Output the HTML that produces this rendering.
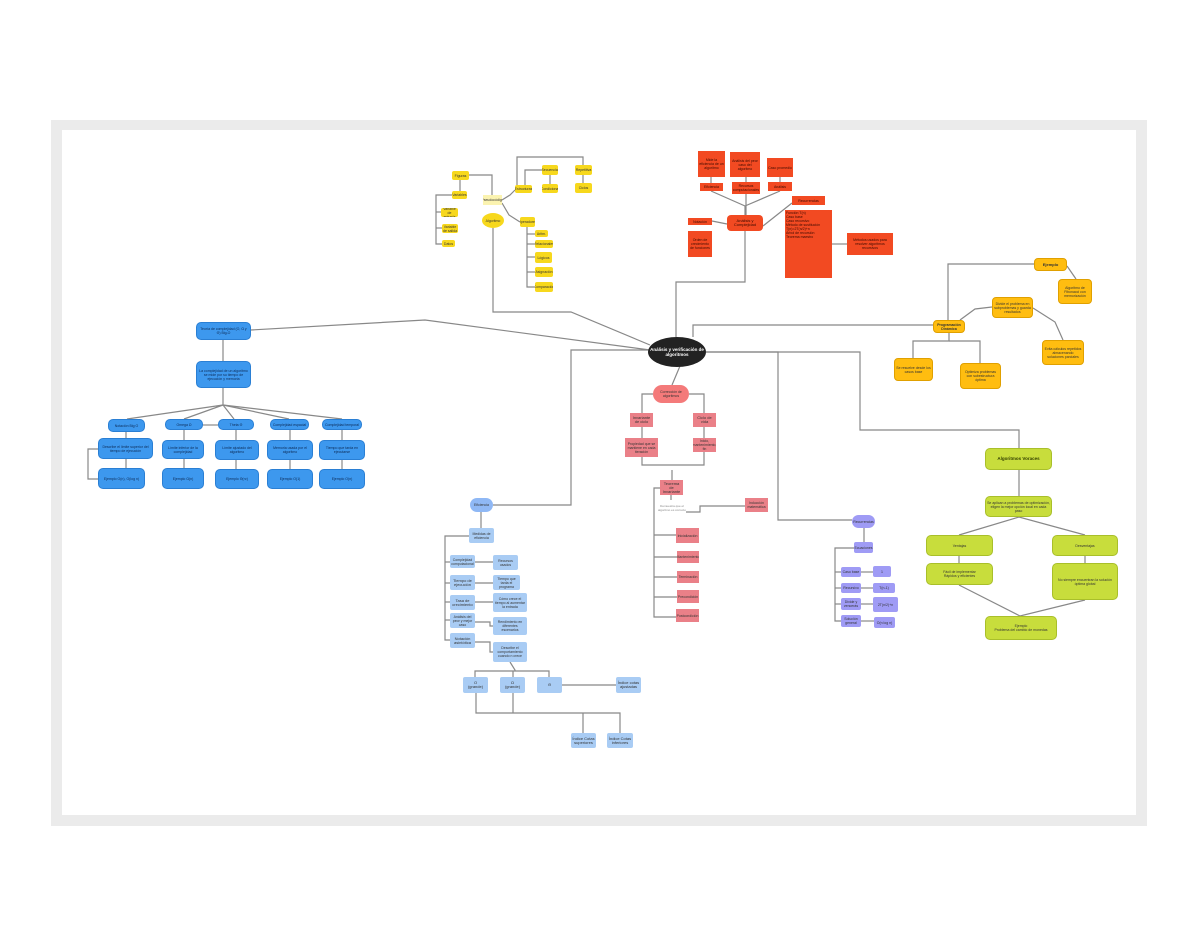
<!DOCTYPE html>
<html><head><meta charset="utf-8">
<style>
html,body{margin:0;padding:0;background:#fff;}
body{width:1200px;height:927px;position:relative;overflow:hidden;font-family:"Liberation Sans",sans-serif;}
.frame{position:absolute;left:51px;top:120px;width:1096px;height:706px;background:#ebebeb;}
.inner{position:absolute;left:62px;top:130px;width:1074px;height:685px;background:#fff;}
.b{position:absolute;box-sizing:border-box;display:flex;align-items:center;justify-content:center;text-align:center;font-size:3.5px;line-height:4px;overflow:hidden;color:#333;padding:1px;}
.bl{background:#3d98ee;border-radius:5px;color:#0d2a55;border:1px solid #2a7fd4;}
.ye{background:#f7d81d;border-radius:2px;}
.rd{background:#f24a22;color:#3a0a00;}
.or{background:#ffbd10;border-radius:4px;border:1px solid #e0a000;}
.gr{background:#c8dd3c;border-radius:5px;border:1px solid #a9bf2a;}
.pk{background:#ea8088;}
.lb{background:#a9ccf4;border-radius:2px;}
.pu{background:#9f9bf5;border-radius:2px;}
svg{position:absolute;left:0;top:0;}
</style></head><body>
<div class="frame"></div><div class="inner"></div>
<svg width="1200" height="927" fill="none" stroke="#888" stroke-width="1.2">
<!-- blue -->
<polyline points="251,330 425,320 650,350"/>
<line x1="223" y1="340" x2="223" y2="361"/>
<line x1="223" y1="388" x2="223" y2="405"/>
<polyline points="127,419 223,405 184,419"/><polyline points="223,405 234,419"/><polyline points="223,405 289,419"/><polyline points="223,405 342,419"/>
<line x1="203" y1="425" x2="218" y2="425"/>
<line x1="126" y1="432" x2="126" y2="438"/><line x1="184" y1="430" x2="184" y2="440"/><line x1="236" y1="430" x2="236" y2="440"/><line x1="290" y1="430" x2="290" y2="440"/><line x1="342" y1="430" x2="342" y2="440"/>
<polyline points="98,449 88,449 88,479 98,479"/>
<line x1="126" y1="459" x2="126" y2="468"/>
<line x1="184" y1="459" x2="184" y2="468"/><line x1="236" y1="460" x2="236" y2="469"/><line x1="290" y1="460" x2="290" y2="469"/><line x1="342" y1="460" x2="342" y2="469"/>
<!-- yellow -->
<polyline points="493,228 493,312 571,312 650,345"/>
<polyline points="469,175 492,175 492,195"/>
<line x1="460" y1="180" x2="460" y2="191"/>
<polyline points="452,195 436,195 436,244 442,244"/><line x1="436" y1="212" x2="441" y2="212"/><line x1="436" y1="228" x2="442" y2="228"/>
<polyline points="502,200 510,195 515,190"/><polyline points="502,203 509,215 520,222"/>
<polyline points="517,185 517,157 583,157 583,165"/><polyline points="525,185 525,170 542,170"/>
<line x1="550" y1="175" x2="550" y2="184"/><line x1="583" y1="175" x2="583" y2="183"/>
<polyline points="527,227 527,287 535,287"/><line x1="527" y1="234" x2="535" y2="234"/><line x1="527" y1="244" x2="535" y2="244"/><line x1="527" y1="257" x2="535" y2="257"/><line x1="527" y1="272" x2="535" y2="272"/>
<!-- red -->
<polyline points="745,231 745,282 676,282 676,337"/>
<polyline points="711,191 745,206 745,215"/><line x1="746" y1="194" x2="746" y2="215"/><polyline points="780,191 745,206"/>
<line x1="711" y1="177" x2="711" y2="183"/><line x1="746" y1="177" x2="746" y2="182"/><line x1="780" y1="177" x2="780" y2="182"/>
<line x1="712" y1="221" x2="727" y2="224"/><line x1="763" y1="226" x2="792" y2="203"/><line x1="832" y1="244" x2="847" y2="244"/>
<!-- orange -->
<polyline points="693,337 693,325 933,325"/>
<polyline points="1034,264 948,264 948,320"/>
<line x1="1067" y1="266" x2="1076" y2="279"/>
<polyline points="960,320 975,309 992,307"/>
<polyline points="1033,308 1055,322 1063,340"/>
<polyline points="949,333 949,341 913,341 913,358"/><polyline points="949,341 980,341 980,363"/>
<!-- green -->
<polyline points="706,352 860,352 860,430 1019,430 1019,448"/>
<line x1="1019" y1="470" x2="1019" y2="496"/>
<polyline points="959,535 1019,517 1085,535"/>
<line x1="959" y1="556" x2="959" y2="563"/><line x1="1085" y1="556" x2="1085" y2="563"/>
<polyline points="959,585 1020,616 1085,600"/>
<!-- pink -->
<line x1="680" y1="366" x2="672" y2="385"/>
<polyline points="653,394 642,394 642,413"/><polyline points="689,394 704,394 704,413"/>
<line x1="642" y1="427" x2="642" y2="438"/><line x1="704" y1="427" x2="704" y2="438"/>
<polyline points="642,457 642,465 704,465 704,452"/>
<line x1="672" y1="470" x2="672" y2="480"/>
<line x1="671" y1="495" x2="671" y2="500"/>
<polyline points="686,512 700,512 700,506 745,506"/>
<polyline points="660,488 654,488 654,617 676,617"/>
<line x1="654" y1="535" x2="676" y2="535"/><line x1="654" y1="557" x2="677" y2="557"/><line x1="654" y1="577" x2="677" y2="577"/><line x1="654" y1="597" x2="677" y2="597"/>
<!-- light blue -->
<polyline points="493,505 571,505 571,350 648,350"/>
<line x1="481" y1="512" x2="481" y2="528"/>
<polyline points="469,536 445,536 445,640 450,640"/>
<line x1="445" y1="562" x2="450" y2="562"/><line x1="445" y1="583" x2="450" y2="583"/><line x1="445" y1="602" x2="450" y2="602"/><line x1="445" y1="620" x2="450" y2="620"/>
<line x1="475" y1="562" x2="493" y2="562"/><line x1="475" y1="583" x2="493" y2="583"/><line x1="475" y1="602" x2="493" y2="602"/>
<polyline points="475,622 490,622 490,626 493,626"/><polyline points="475,642 490,642 490,652 493,652"/>
<polyline points="510,662 515,670 515,671"/>
<polyline points="475,677 475,671 549,671 549,677"/><line x1="513" y1="671" x2="513" y2="677"/>
<line x1="562" y1="685" x2="616" y2="685"/>
<polyline points="476,693 476,713 620,713 620,733"/><polyline points="513,693 513,713"/><line x1="583" y1="713" x2="583" y2="733"/>
<!-- purple -->
<polyline points="706,352 778,352 778,520 852,520"/>
<line x1="864" y1="528" x2="864" y2="542"/>
<polyline points="854,548 835,548 835,621 841,621"/>
<line x1="835" y1="572" x2="841" y2="572"/><line x1="835" y1="588" x2="841" y2="588"/><line x1="835" y1="604" x2="841" y2="604"/>
<line x1="861" y1="572" x2="873" y2="572"/><line x1="861" y1="588" x2="873" y2="588"/><line x1="861" y1="604" x2="873" y2="604"/><line x1="861" y1="621" x2="874" y2="621"/>
</svg>

<!-- center -->
<div class="b" style="left:648px;top:337px;width:58px;height:30px;background:#222;border-radius:50%;color:#fff;font-size:4.5px;line-height:5px;font-weight:bold;">Análisis y verificación de algoritmos</div>

<!-- blue -->
<div class="b bl" style="left:196px;top:322px;width:55px;height:18px;">Teoría de complejidad (O, Ω y Θ) Big-O</div>
<div class="b bl" style="left:196px;top:361px;width:55px;height:27px;">La complejidad de un algoritmo se mide por su tiempo de ejecución y memoria</div>
<div class="b bl" style="left:108px;top:419px;width:37px;height:13px;">Notación Big O</div>
<div class="b bl" style="left:165px;top:419px;width:38px;height:11px;">Omega Ω</div>
<div class="b bl" style="left:218px;top:419px;width:36px;height:11px;">Theta Θ</div>
<div class="b bl" style="left:270px;top:419px;width:39px;height:11px;">Complejidad espacial</div>
<div class="b bl" style="left:322px;top:419px;width:40px;height:11px;">Complejidad temporal</div>
<div class="b bl" style="left:98px;top:438px;width:55px;height:21px;">Describe el límite superior del tiempo de ejecución</div>
<div class="b bl" style="left:162px;top:440px;width:42px;height:19px;">Límite inferior de la complejidad</div>
<div class="b bl" style="left:215px;top:440px;width:44px;height:20px;">Límite ajustado del algoritmo</div>
<div class="b bl" style="left:267px;top:440px;width:46px;height:20px;">Memoria usada por el algoritmo</div>
<div class="b bl" style="left:319px;top:440px;width:46px;height:20px;">Tiempo que tarda en ejecutarse</div>
<div class="b bl" style="left:98px;top:468px;width:47px;height:21px;">Ejemplo O(n), O(log n)</div>
<div class="b bl" style="left:162px;top:468px;width:42px;height:21px;">Ejemplo Ω(n)</div>
<div class="b bl" style="left:215px;top:469px;width:44px;height:20px;">Ejemplo Θ(n²)</div>
<div class="b bl" style="left:267px;top:469px;width:46px;height:20px;">Ejemplo O(1)</div>
<div class="b bl" style="left:319px;top:469px;width:46px;height:20px;">Ejemplo O(n)</div>

<!-- yellow -->
<div class="b ye" style="left:452px;top:171px;width:17px;height:9px;">Figuras</div>
<div class="b ye" style="left:452px;top:191px;width:15px;height:8px;">Variables</div>
<div class="b ye" style="left:441px;top:208px;width:17px;height:9px;">Variable de entrada</div>
<div class="b ye" style="left:442px;top:224px;width:16px;height:9px;">Variable de salida</div>
<div class="b ye" style="left:442px;top:240px;width:13px;height:7px;">Datos</div>
<div class="b" style="left:483px;top:195px;width:19px;height:10px;background:#fbf3b0;">Pseudocódigo</div>
<div class="b ye" style="left:482px;top:213px;width:22px;height:15px;border-radius:50%;">Algoritmo</div>
<div class="b ye" style="left:515px;top:185px;width:17px;height:8px;">Estructuras</div>
<div class="b ye" style="left:542px;top:165px;width:16px;height:10px;">Secuencial</div>
<div class="b ye" style="left:542px;top:184px;width:16px;height:9px;">Condicional</div>
<div class="b ye" style="left:575px;top:165px;width:17px;height:10px;">Repetitiva</div>
<div class="b ye" style="left:575px;top:183px;width:17px;height:10px;">Ciclos</div>
<div class="b ye" style="left:520px;top:217px;width:15px;height:10px;">Operadores</div>
<div class="b ye" style="left:535px;top:230px;width:13px;height:7px;">Aritm.</div>
<div class="b ye" style="left:535px;top:240px;width:18px;height:8px;">Relacionales</div>
<div class="b ye" style="left:535px;top:252px;width:17px;height:11px;">Lógicos</div>
<div class="b ye" style="left:535px;top:267px;width:18px;height:10px;">Asignación</div>
<div class="b ye" style="left:535px;top:282px;width:18px;height:10px;">Comparación</div>

<!-- red -->
<div class="b rd" style="left:698px;top:151px;width:27px;height:26px;">Mide la eficiencia de un algoritmo</div>
<div class="b rd" style="left:730px;top:152px;width:30px;height:25px;">Análisis del peor caso del algoritmo</div>
<div class="b rd" style="left:767px;top:158px;width:26px;height:19px;">Caso promedio</div>
<div class="b rd" style="left:700px;top:183px;width:23px;height:8px;">Eficiencia</div>
<div class="b rd" style="left:732px;top:182px;width:28px;height:12px;">Recursos computacionales</div>
<div class="b rd" style="left:768px;top:182px;width:24px;height:9px;">Análisis</div>
<div class="b rd" style="left:727px;top:215px;width:36px;height:16px;border-radius:4px;font-size:4px;">Análisis y Complejidad</div>
<div class="b rd" style="left:688px;top:218px;width:24px;height:7px;">Notación</div>
<div class="b rd" style="left:688px;top:231px;width:24px;height:26px;">Orden de crecimiento de funciones</div>
<div class="b rd" style="left:792px;top:196px;width:33px;height:9px;">Recurrencias</div>
<div class="b rd" style="left:785px;top:210px;width:47px;height:68px;justify-content:flex-start;align-items:flex-start;text-align:left;">Función T(n)<br>Caso base<br>Caso recursivo<br>Método de sustitución<br>T(n)=2T(n/2)+n<br>Árbol de recursión<br>Teorema maestro</div>
<div class="b rd" style="left:847px;top:233px;width:46px;height:22px;">Métodos usados para resolver algoritmos recursivos</div>

<!-- orange -->
<div class="b or" style="left:1034px;top:258px;width:33px;height:13px;font-size:4px;font-weight:bold;">Ejemplo</div>
<div class="b or" style="left:1058px;top:279px;width:34px;height:25px;">Algoritmo de Fibonacci con memorización</div>
<div class="b or" style="left:933px;top:320px;width:32px;height:13px;font-weight:bold;">Programación Dinámica</div>
<div class="b or" style="left:992px;top:297px;width:41px;height:21px;">Divide el problema en subproblemas y guarda resultados</div>
<div class="b or" style="left:1042px;top:340px;width:42px;height:25px;">Evita cálculos repetidos almacenando soluciones parciales</div>
<div class="b or" style="left:894px;top:358px;width:39px;height:23px;">Se resuelve desde los casos base</div>
<div class="b or" style="left:960px;top:363px;width:41px;height:26px;">Optimiza problemas con subestructura óptima</div>

<!-- green -->
<div class="b gr" style="left:985px;top:448px;width:67px;height:22px;font-size:4.5px;font-weight:bold;color:#334000;">Algoritmos Voraces</div>
<div class="b gr" style="left:985px;top:496px;width:67px;height:21px;">Se aplican a problemas de optimización, eligen la mejor opción local en cada paso</div>
<div class="b gr" style="left:926px;top:535px;width:67px;height:21px;">Ventajas</div>
<div class="b gr" style="left:1052px;top:535px;width:66px;height:21px;">Desventajas</div>
<div class="b gr" style="left:926px;top:563px;width:67px;height:22px;">Fácil de implementar<br>Rápidos y eficientes</div>
<div class="b gr" style="left:1052px;top:563px;width:66px;height:37px;">No siempre encuentran la solución óptima global</div>
<div class="b gr" style="left:985px;top:616px;width:72px;height:24px;">Ejemplo<br>Problema del cambio de monedas</div>

<!-- pink -->
<div class="b pk" style="left:653px;top:385px;width:36px;height:18px;border-radius:9px;background:#f47a7a;">Corrección de algoritmos</div>
<div class="b pk" style="left:630px;top:413px;width:23px;height:14px;font-size:4px;">Invariante de ciclo</div>
<div class="b pk" style="left:693px;top:413px;width:23px;height:14px;font-size:4px;">Ciclo de vida</div>
<div class="b pk" style="left:625px;top:438px;width:33px;height:19px;">Propiedad que se mantiene en cada iteración</div>
<div class="b pk" style="left:693px;top:438px;width:23px;height:14px;">Inicio, mantenimiento, fin</div>
<div class="b pk" style="left:660px;top:480px;width:23px;height:15px;font-size:4px;">Teorema de Invariante</div>
<div class="b" style="left:656px;top:499px;width:32px;height:18px;color:#888;font-size:3px;">Demuestra que el algoritmo es correcto</div>
<div class="b pk" style="left:745px;top:498px;width:23px;height:14px;">Inducción matemática</div>
<div class="b pk" style="left:676px;top:528px;width:23px;height:15px;">Inicialización</div>
<div class="b pk" style="left:677px;top:551px;width:22px;height:12px;">Mantenimiento</div>
<div class="b pk" style="left:677px;top:571px;width:22px;height:12px;">Terminación</div>
<div class="b pk" style="left:677px;top:590px;width:22px;height:13px;">Precondición</div>
<div class="b pk" style="left:676px;top:609px;width:23px;height:13px;">Postcondición</div>

<!-- light blue -->
<div class="b lb" style="left:470px;top:498px;width:23px;height:14px;border-radius:7px;background:#8fb8f5;">Eficiencia</div>
<div class="b lb" style="left:469px;top:528px;width:25px;height:15px;">Medidas de eficiencia</div>
<div class="b lb" style="left:450px;top:555px;width:25px;height:13px;">Complejidad computacional</div>
<div class="b lb" style="left:450px;top:575px;width:25px;height:15px;font-size:4px;">Tiempo de ejecución</div>
<div class="b lb" style="left:450px;top:595px;width:25px;height:15px;font-size:4px;">Tasa de crecimiento</div>
<div class="b lb" style="left:450px;top:613px;width:25px;height:15px;">Análisis del peor y mejor caso</div>
<div class="b lb" style="left:450px;top:633px;width:25px;height:15px;font-size:4px;">Notación asintótica</div>
<div class="b lb" style="left:493px;top:555px;width:25px;height:15px;">Recursos usados</div>
<div class="b lb" style="left:493px;top:575px;width:27px;height:15px;">Tiempo que tarda el programa</div>
<div class="b lb" style="left:493px;top:593px;width:34px;height:19px;">Cómo crece el tiempo al aumentar la entrada</div>
<div class="b lb" style="left:493px;top:617px;width:34px;height:18px;">Rendimiento en diferentes escenarios</div>
<div class="b lb" style="left:493px;top:642px;width:34px;height:20px;">Describe el comportamiento cuando n crece</div>
<div class="b lb" style="left:463px;top:677px;width:25px;height:16px;font-size:4px;">O<br>(grande)</div>
<div class="b lb" style="left:500px;top:677px;width:25px;height:16px;font-size:4px;">Ω<br>(grande)</div>
<div class="b lb" style="left:537px;top:677px;width:25px;height:16px;font-size:4px;">Θ</div>
<div class="b lb" style="left:616px;top:677px;width:25px;height:16px;font-size:4px;">Índice cotas ajustadas</div>
<div class="b lb" style="left:571px;top:733px;width:25px;height:15px;font-size:4px;">Índice Cotas superiores</div>
<div class="b lb" style="left:607px;top:733px;width:26px;height:15px;font-size:4px;">Índice Cotas inferiores</div>

<!-- purple -->
<div class="b pu" style="left:852px;top:515px;width:23px;height:13px;border-radius:7px;">Recurrencias</div>
<div class="b pu" style="left:854px;top:542px;width:19px;height:11px;">Ecuaciones</div>
<div class="b pu" style="left:841px;top:567px;width:20px;height:10px;">Caso base</div>
<div class="b pu" style="left:841px;top:583px;width:20px;height:10px;">Recursivo</div>
<div class="b pu" style="left:841px;top:598px;width:20px;height:12px;">Divide y vencerás</div>
<div class="b pu" style="left:841px;top:615px;width:20px;height:12px;">Solución general</div>
<div class="b pu" style="left:873px;top:566px;width:18px;height:11px;">1</div>
<div class="b pu" style="left:873px;top:583px;width:22px;height:10px;">T(n-1)</div>
<div class="b pu" style="left:873px;top:597px;width:25px;height:15px;">2T(n/2)+n</div>
<div class="b pu" style="left:874px;top:617px;width:21px;height:11px;">O(n log n)</div>
</body></html>
